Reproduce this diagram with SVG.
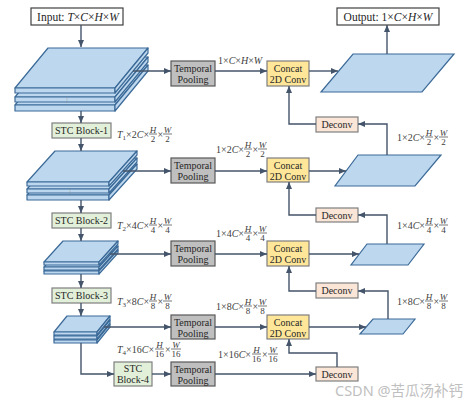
<svg xmlns="http://www.w3.org/2000/svg" width="474" height="405" viewBox="0 0 474 405">
<defs>
<marker id="ah" markerUnits="userSpaceOnUse" markerWidth="8" markerHeight="6" refX="7" refY="3" orient="auto">
<path d="M0,0 L7,3 L0,6 z" fill="#44546a"/>
</marker>
<style>
.sl polygon{fill:#bdd7ee;stroke:#3b6a98;stroke-width:1.2;stroke-linejoin:round}
.pa{fill:#bdd7ee;stroke:#3b6a98;stroke-width:1.2}
.io{fill:#ffffff;stroke:#404040;stroke-width:1.2}
.tp{fill:#bfbfbf;stroke:#595959;stroke-width:1.2}
.cc{fill:#ffe699;stroke:#7f7f7f;stroke-width:1.2}
.dc{fill:#fbe5d6;stroke:#7f7f7f;stroke-width:1.2}
.st{fill:#e2f0d9;stroke:#7f7f7f;stroke-width:1.2}
.cn path{fill:none;stroke:#44546a;stroke-width:1.4;marker-end:url(#ah)}
.t{font-family:"Liberation Serif","Times New Roman",serif;font-size:10px;fill:#404040}
.bx{font-family:"Liberation Serif","Times New Roman",serif;font-size:10px;fill:#262626;text-anchor:middle}
.big{font-size:11.5px}
.i{font-style:italic}
.f{font-size:9px;text-anchor:middle}
.sb{font-size:7px}
.fl{stroke:#404040;stroke-width:0.7}
.dt{font-family:"DejaVu Sans",sans-serif;font-size:6px;fill:#7f7f7f;text-anchor:middle}
</style>
</defs>

<g id="stack1" class="sl">
<polygon points="48,65 148,65 115,105 15,105"/><polygon points="15,105 115,105 115,111 15,111"/><polygon points="115,105 148,65 148,71 115,111"/>
<polygon points="48,57 148,57 115,97 15,97"/><polygon points="15,97 115,97 115,102 15,102"/><polygon points="115,97 148,57 148,62 115,102"/>
<polygon points="48,48 148,48 115,88 15,88"/><polygon points="15,88 115,88 115,93 15,93"/><polygon points="115,88 148,48 148,53 115,93"/>
<text class="dt" x="67" y="102">⋮</text>
</g>
<g id="stack2" class="sl">
<polygon points="55,164 137,164 109,195 27,195"/><polygon points="27,195 109,195 109,200 27,200"/><polygon points="109,195 137,164 137,169 109,200"/>
<polygon points="55,158 137,158 109,189 27,189"/><polygon points="27,189 109,189 109,193 27,193"/><polygon points="109,189 137,158 137,162 109,193"/>
<polygon points="55,151 137,151 109,182 27,182"/><polygon points="27,182 109,182 109,186 27,186"/><polygon points="109,182 137,151 137,155 109,186"/>
<text class="dt" x="70" y="193">⋮</text>
</g>
<g id="stack3" class="sl">
<polygon points="63,250 118,250 99,271 44,271"/><polygon points="44,271 99,271 99,274 44,274"/><polygon points="99,271 118,250 118,253 99,274"/>
<polygon points="63,246 118,246 99,267 44,267"/><polygon points="44,267 99,267 99,270 44,270"/><polygon points="99,267 118,246 118,249 99,270"/>
<polygon points="63,241 118,241 99,262 44,262"/><polygon points="44,262 99,262 99,265 44,265"/><polygon points="99,262 118,241 118,244 99,265"/>
</g>
<g id="stack4" class="sl">
<polygon points="67,324 110,324 97,340 54,340"/><polygon points="54,340 97,340 97,343 54,343"/><polygon points="97,340 110,324 110,327 97,343"/>
<polygon points="67,320 110,320 97,336 54,336"/><polygon points="54,336 97,336 97,339 54,339"/><polygon points="97,336 110,320 110,323 97,339"/>
<polygon points="67,316 110,316 97,332 54,332"/><polygon points="54,332 97,332 97,335 54,335"/><polygon points="97,332 110,316 110,319 97,335"/>
</g>

<g id="out1"><polygon class="pa" points="353,54 454,54 422,92 321,92"/></g>
<g id="out2"><polygon class="pa" points="358,155 441,155 415,186 335,186"/></g>
<g id="out3"><polygon class="pa" points="367,244 424,244 408,265 351,265"/></g>
<g id="out4"><polygon class="pa" points="373,319 415,319 403,334 360,334"/></g>

<g id="input"><rect class="io" x="31" y="8" width="92" height="17"/>
<text class="bx big" x="78" y="20.5">Input: <tspan class="i">T</tspan>×<tspan class="i">C</tspan>×<tspan class="i">H</tspan>×<tspan class="i">W</tspan></text></g>
<g id="output"><rect class="io" x="337" y="8" width="102" height="17"/>
<text class="bx big" x="388" y="20.5">Output: 1×<tspan class="i">C</tspan>×<tspan class="i">H</tspan>×<tspan class="i">W</tspan></text></g>

<g id="stc1"><rect class="st" x="52" y="123" width="59" height="15"/><text class="bx" x="81.5" y="134">STC Block-1</text></g>
<g id="stc2"><rect class="st" x="52" y="213" width="59" height="15"/><text class="bx" x="81.5" y="224">STC Block-2</text></g>
<g id="stc3"><rect class="st" x="52" y="288" width="59" height="15"/><text class="bx" x="81.5" y="299">STC Block-3</text></g>
<g id="stc4"><rect class="st" x="114" y="362" width="38" height="24"/><text class="bx" x="133" y="372">STC</text><text class="bx" x="133" y="383">Block-4</text></g>

<g id="tp1"><rect class="tp" x="171" y="61" width="44" height="25"/><text class="bx" x="193" y="72">Temporal</text><text class="bx" x="193" y="83">Pooling</text></g>
<g id="tp2"><rect class="tp" x="171" y="158" width="44" height="25"/><text class="bx" x="193" y="169">Temporal</text><text class="bx" x="193" y="180">Pooling</text></g>
<g id="tp3"><rect class="tp" x="171" y="241" width="44" height="25"/><text class="bx" x="193" y="252">Temporal</text><text class="bx" x="193" y="263">Pooling</text></g>
<g id="tp4"><rect class="tp" x="171" y="315" width="44" height="24"/><text class="bx" x="193" y="325.5">Temporal</text><text class="bx" x="193" y="336.5">Pooling</text></g>
<g id="tp5"><rect class="tp" x="171" y="362" width="44" height="24"/><text class="bx" x="193" y="372.5">Temporal</text><text class="bx" x="193" y="383.5">Pooling</text></g>

<g id="cc1"><rect class="cc" x="267" y="61" width="42" height="25"/><text class="bx" x="288" y="72">Concat</text><text class="bx" x="288" y="83">2D Conv</text></g>
<g id="cc2"><rect class="cc" x="267" y="158" width="42" height="24"/><text class="bx" x="288" y="168.5">Concat</text><text class="bx" x="288" y="179.5">2D Conv</text></g>
<g id="cc3"><rect class="cc" x="267" y="241" width="42" height="25"/><text class="bx" x="288" y="252">Concat</text><text class="bx" x="288" y="263">2D Conv</text></g>
<g id="cc4"><rect class="cc" x="267" y="315" width="42" height="24"/><text class="bx" x="288" y="325.5">Concat</text><text class="bx" x="288" y="336.5">2D Conv</text></g>

<g id="dc1"><rect class="dc" x="316" y="117" width="42" height="15"/><text class="bx" x="337" y="128">Deconv</text></g>
<g id="dc2"><rect class="dc" x="316" y="208" width="42" height="14"/><text class="bx" x="337" y="218.5">Deconv</text></g>
<g id="dc3"><rect class="dc" x="316" y="283" width="42" height="15"/><text class="bx" x="337" y="294">Deconv</text></g>
<g id="dc4"><rect class="dc" x="316" y="367" width="42" height="14"/><text class="bx" x="337" y="377.5">Deconv</text></g>

<g id="connectors" class="cn">
<path d="M81,25 V47"/>
<path d="M81,111 V123"/>
<path d="M81,138 V151"/>
<path d="M81,200 V213"/>
<path d="M81,228 V241"/>
<path d="M81,274 V288"/>
<path d="M81,303 V316"/>
<path d="M81,343 V374 H114"/>
<path d="M152,374 H171"/>
<path d="M133,71 H171"/>
<path d="M215,71 H267"/>
<path d="M309,71 H338"/>
<path d="M387,54 V25"/>
<path d="M123,171 H171"/>
<path d="M215,171 H267"/>
<path d="M309,171 H346"/>
<path d="M387,155 V124 H358"/>
<path d="M316,124 H289 V86"/>
<path d="M110,254 H171"/>
<path d="M215,254 H267"/>
<path d="M309,254 H359"/>
<path d="M387,244 V215 H358"/>
<path d="M316,215 H289 V182"/>
<path d="M104,327 H171"/>
<path d="M215,327 H267"/>
<path d="M309,327 H366"/>
<path d="M388,319 V291 H358"/>
<path d="M316,291 H289 V266"/>
<path d="M215,374 H316"/>
<path d="M337,367 V353 H289 V339"/>
</g>

<g id="labels">
<text class="t" x="218" y="64">1×<tspan class="i">C</tspan>×<tspan class="i">H</tspan>×<tspan class="i">W</tspan></text>

<text class="t" x="117" y="137.5"><tspan class="i">T</tspan><tspan class="sb" dy="2">1</tspan><tspan dy="-2">×2</tspan><tspan class="i">C</tspan>×</text>
<text class="t f i" x="153" y="132.5">H</text><line class="fl" x1="149" y1="134" x2="157" y2="134"/><text class="t f" x="153" y="142">2</text>
<text class="t" x="157.5" y="137.5">×</text>
<text class="t f i" x="167.5" y="132.5">W</text><line class="fl" x1="163" y1="134" x2="172" y2="134"/><text class="t f" x="167.5" y="142">2</text>

<text class="t" x="117" y="228.5"><tspan class="i">T</tspan><tspan class="sb" dy="2">2</tspan><tspan dy="-2">×4</tspan><tspan class="i">C</tspan>×</text>
<text class="t f i" x="153" y="223.5">H</text><line class="fl" x1="149" y1="225" x2="157" y2="225"/><text class="t f" x="153" y="233">4</text>
<text class="t" x="157.5" y="228.5">×</text>
<text class="t f i" x="167.5" y="223.5">W</text><line class="fl" x1="163" y1="225" x2="172" y2="225"/><text class="t f" x="167.5" y="233">4</text>

<text class="t" x="117" y="304.5"><tspan class="i">T</tspan><tspan class="sb" dy="2">3</tspan><tspan dy="-2">×8</tspan><tspan class="i">C</tspan>×</text>
<text class="t f i" x="153" y="299.5">H</text><line class="fl" x1="149" y1="301" x2="157" y2="301"/><text class="t f" x="153" y="309">8</text>
<text class="t" x="157.5" y="304.5">×</text>
<text class="t f i" x="167.5" y="299.5">W</text><line class="fl" x1="163" y1="301" x2="172" y2="301"/><text class="t f" x="167.5" y="309">8</text>

<text class="t" x="117" y="352.5"><tspan class="i">T</tspan><tspan class="sb" dy="2">4</tspan><tspan dy="-2">×16</tspan><tspan class="i">C</tspan>×</text>
<text class="t f i" x="159.5" y="347.5">H</text><line class="fl" x1="155" y1="349" x2="164" y2="349"/><text class="t f" x="159.5" y="357">16</text>
<text class="t" x="165" y="352.5">×</text>
<text class="t f i" x="176" y="347.5">W</text><line class="fl" x1="171" y1="349" x2="181" y2="349"/><text class="t f" x="176" y="357">16</text>

<text class="t" x="216" y="152.5">1×2<tspan class="i">C</tspan>×</text>
<text class="t f i" x="248" y="147.5">H</text><line class="fl" x1="244" y1="149" x2="252" y2="149"/><text class="t f" x="248" y="157">2</text>
<text class="t" x="252.5" y="152.5">×</text>
<text class="t f i" x="262.5" y="147.5">W</text><line class="fl" x1="258" y1="149" x2="267" y2="149"/><text class="t f" x="262.5" y="157">2</text>

<text class="t" x="216" y="236.5">1×4<tspan class="i">C</tspan>×</text>
<text class="t f i" x="248" y="231.5">H</text><line class="fl" x1="244" y1="233" x2="252" y2="233"/><text class="t f" x="248" y="241">4</text>
<text class="t" x="252.5" y="236.5">×</text>
<text class="t f i" x="262.5" y="231.5">W</text><line class="fl" x1="258" y1="233" x2="267" y2="233"/><text class="t f" x="262.5" y="241">4</text>

<text class="t" x="216" y="309.5">1×8<tspan class="i">C</tspan>×</text>
<text class="t f i" x="248" y="304.5">H</text><line class="fl" x1="244" y1="306" x2="252" y2="306"/><text class="t f" x="248" y="314">8</text>
<text class="t" x="252.5" y="309.5">×</text>
<text class="t f i" x="262.5" y="304.5">W</text><line class="fl" x1="258" y1="306" x2="267" y2="306"/><text class="t f" x="262.5" y="314">8</text>

<text class="t" x="218" y="357.5">1×16<tspan class="i">C</tspan>×</text>
<text class="t f i" x="256.5" y="352.5">H</text><line class="fl" x1="252" y1="354" x2="261" y2="354"/><text class="t f" x="256.5" y="362">16</text>
<text class="t" x="262" y="357.5">×</text>
<text class="t f i" x="273" y="352.5">W</text><line class="fl" x1="268" y1="354" x2="278" y2="354"/><text class="t f" x="273" y="362">16</text>

<text class="t" x="397" y="140.5">1×2<tspan class="i">C</tspan>×</text>
<text class="t f i" x="429" y="135.5">H</text><line class="fl" x1="425" y1="137" x2="433" y2="137"/><text class="t f" x="429" y="145">2</text>
<text class="t" x="433.5" y="140.5">×</text>
<text class="t f i" x="443.5" y="135.5">W</text><line class="fl" x1="439" y1="137" x2="448" y2="137"/><text class="t f" x="443.5" y="145">2</text>

<text class="t" x="397" y="228.5">1×4<tspan class="i">C</tspan>×</text>
<text class="t f i" x="429" y="223.5">H</text><line class="fl" x1="425" y1="225" x2="433" y2="225"/><text class="t f" x="429" y="233">4</text>
<text class="t" x="433.5" y="228.5">×</text>
<text class="t f i" x="443.5" y="223.5">W</text><line class="fl" x1="439" y1="225" x2="448" y2="225"/><text class="t f" x="443.5" y="233">4</text>

<text class="t" x="397" y="304.5">1×8<tspan class="i">C</tspan>×</text>
<text class="t f i" x="429" y="299.5">H</text><line class="fl" x1="425" y1="301" x2="433" y2="301"/><text class="t f" x="429" y="309">8</text>
<text class="t" x="433.5" y="304.5">×</text>
<text class="t f i" x="443.5" y="299.5">W</text><line class="fl" x1="439" y1="301" x2="448" y2="301"/><text class="t f" x="443.5" y="309">8</text>
</g>

<text x="335" y="396" font-family="'Noto Sans', 'Noto Sans CJK SC', sans-serif" font-size="14.5" fill="#bfbfbf">CSDN @苦瓜汤补钙</text>
</svg>
